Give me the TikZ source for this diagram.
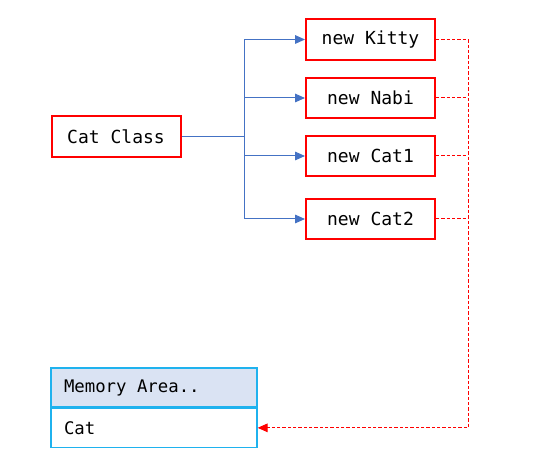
\documentclass[tikz,border=0pt]{standalone}
\usepackage{fontspec}
\setmonofont{DejaVu Sans Mono}
\usetikzlibrary{arrows.meta,positioning}
\definecolor{linkblue}{HTML}{4472C4}
\definecolor{memcyan}{HTML}{1FB2EE}
\definecolor{memhead}{HTML}{DAE3F3}
\newcommand{\memtext}[1]{\makebox[135pt][l]{#1}}

\begin{document}
\begin{tikzpicture}[x=0.75pt,y=-0.75pt,
    classbox/.style={draw=red,line width=1.5pt,minimum width=96.75pt,minimum height=30.5pt,
      font=\ttfamily\fontsize{13.5}{15}\selectfont},
    memcell/.style={draw=memcyan,line width=1pt,minimum height=29.25pt,
      inner xsep=9.75pt,font=\ttfamily\fontsize{13}{15}\selectfont},
    branch/.style={draw=linkblue,line width=0.75pt},
    link/.style={branch,-{Triangle[length=7.5pt,width=6.5pt]}},
    ref/.style={draw=red,line width=0.75pt,dash pattern=on 2.5pt off 1.5pt}]
    \useasboundingbox (0,0) rectangle (539,459);
       \node [classbox] (class) at (116,136.5) {Cat Class};
       \node [classbox] (kitty) at (370.5,39.5) {new Kitty};
       \node [classbox] (nabi) at (370.5,98) {new Nabi};
       \node [classbox] (cat1) at (370.5,156) {new Cat1};
       \node [classbox] (cat2) at (370.5,219) {new Cat2};
       \node [memcell,fill=memhead] (mem) at (154,387.5) {\memtext{Memory Area..}};
       \node [memcell,below=0pt of mem] (cat) {\memtext{Cat}};
       \coordinate (split) at (244,136.5);
       \coordinate (bus) at (468,0);
       \draw [branch] (class.east) -- (split);
       \draw [branch] (split |- kitty) -- (split |- cat2);
       \foreach \n in {kitty,nabi,cat1,cat2} {
         \draw [link] (split |- \n) -- (\n.west);
         \draw [ref] (\n.east) -- (bus |- \n);
       }
       \draw [ref,-{Triangle[length=7.5pt,width=6.5pt]}] (bus |- kitty) -- (bus |- cat) -- (cat.east);
    \end{tikzpicture}
\end{document}
